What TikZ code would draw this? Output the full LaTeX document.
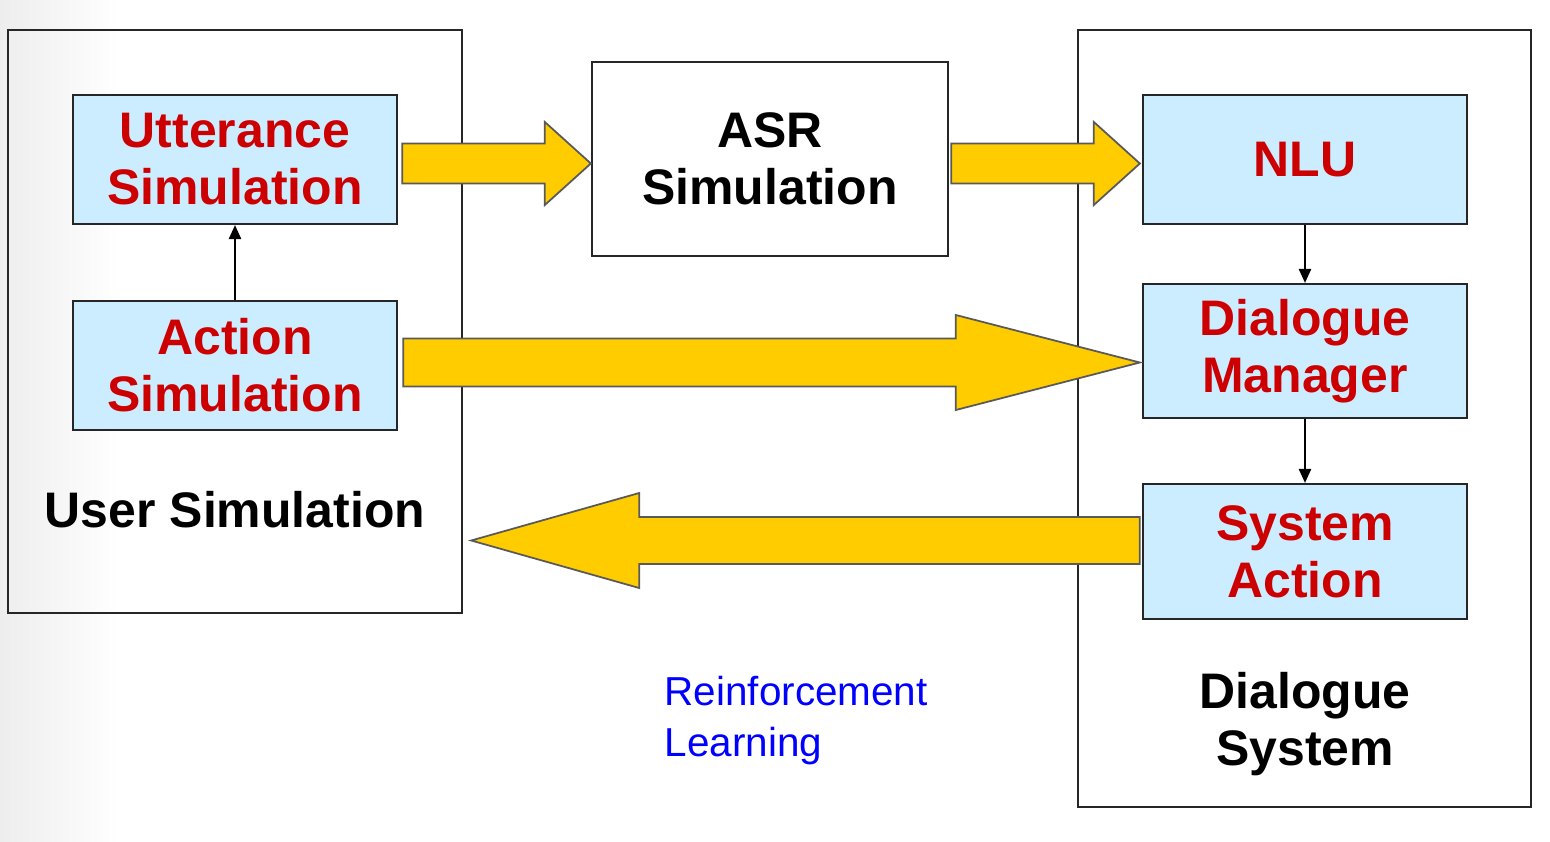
\documentclass[tikz,border=0pt]{standalone}
\usepackage{fontspec}
\setmainfont{Liberation Sans}
\usetikzlibrary{calc,arrows.meta}
\definecolor{boxblue}{HTML}{CCECFF}
\definecolor{textred}{HTML}{CC0000}
\definecolor{arrowyellow}{HTML}{FFCC00}
\tikzset{every node/.style={inner sep=0pt, align=center},
  big/.style={font=\bfseries\fontsize{14.2}{16.2}\selectfont},
  frame/.style={draw=black!85, line width=0.6pt},
  module/.style={draw=black!85, line width=0.6pt, fill=boxblue, text=textred, big, minimum width=3.24cm},
  bigarrow/.style={draw=black!65, line width=0.5pt, fill=arrowyellow},
  thinarrow/.style={black, line width=0.5pt, -{Triangle[length=4pt,width=3.5pt]}}}

\newcommand{\blockarrow}[5]{%
  \coordinate (hb) at ($(#2)!#5!(#1)$);
  \draw[bigarrow] (#2) -- ($(hb)!#4!90:(#2)$) -- ($(hb)!#3!90:(#2)$)
    -- ($(#1)!#3!90:(#2)$) -- ($(#1)!#3!-90:(#2)$) -- ($(hb)!#3!-90:(#2)$)
    -- ($(hb)!#4!-90:(#2)$) -- cycle;}

\begin{document}
\begin{tikzpicture}[x=0.01cm,y=-0.01cm]
   \useasboundingbox (0,0) rectangle (1550,842);
   \shade[left color=black!7, right color=white, draw=none] (0,0) rectangle (120,842);

   \node[frame, minimum width=4.54cm, minimum height=5.83cm] (user) at ( 235.0,321.5) {};
   \node[frame, minimum width=4.53cm, minimum height=7.77cm] (ds)   at (1304.5,418.5) {};
   \node[frame, fill=white, big, minimum width=3.56cm, minimum height=1.94cm] (asr) at (770,159) {ASR\\Simulation};

   \node[module, minimum height=1.29cm] (utt) at ( 235,159.5) {Utterance\\Simulation};
   \node[module, minimum height=1.29cm] (act) at ( 235,365.5) {Action\\Simulation};
   \node[module, minimum height=1.29cm] (nlu) at (1305,159.5) {NLU};
   \node[module, minimum height=1.34cm] (dm)  at (1305,351.0) {Dialogue\\Manager};
   \node[module, minimum height=1.35cm] (sa)  at (1305,551.5) {System\\Action};

   \node[big] (userlbl) at ( 235,510) {User Simulation};
   \node[big] (dslbl)   at (1305,724) {Dialogue\\System};
   \node[anchor=north west, align=left, text=blue, font=\fontsize{11.5}{14.5}\selectfont]
        (rl) at (664,675) {Reinforcement\\Learning};

   \draw[thinarrow] (act.north) -- (act.north |- utt.south);
   \draw[thinarrow] (nlu.south) -- (dm.north);
   \draw[thinarrow] (dm.south)  -- (sa.north);

   \coordinate (a1s) at ($(utt.east)+(4,4)$);
   \coordinate (a1t) at ($(asr.west |- a1s)$);
   \coordinate (a2s) at ($(asr.east |- a1s)+(2,0)$);
   \coordinate (a2t) at ($(nlu.west |- a1s)+(-2,0)$);
   \coordinate (a3s) at ($(act.east)+(5,-3)$);
   \coordinate (a3t) at ($(dm.west |- a3s)+(-2,0)$);
   \coordinate (a4s) at ($(sa.west)+(-2,-11)$);
   \coordinate (a4t) at ($(user.east |- a4s)+(8,0)$);

   \blockarrow{a1s}{a1t}{0.2cm}{0.415cm}{0.46cm}
   \blockarrow{a2s}{a2t}{0.2cm}{0.415cm}{0.46cm}
   \blockarrow{a3s}{a3t}{0.24cm}{0.475cm}{1.84cm}
   \blockarrow{a4s}{a4t}{0.235cm}{0.475cm}{1.68cm}
\end{tikzpicture}
\end{document}
